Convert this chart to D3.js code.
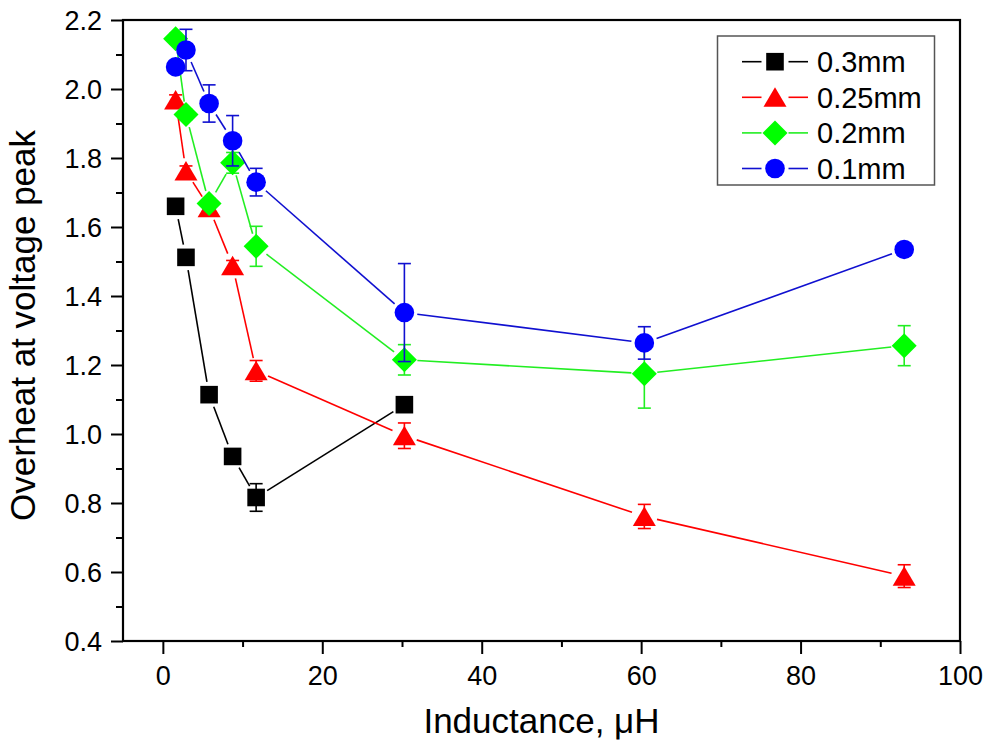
<!DOCTYPE html>
<html>
<head>
<meta charset="utf-8">
<script src="https://cdn.jsdelivr.net/npm/d3@7"></script>
<style>
	body { margin: 0; background: #fff; }
	svg { font-family: "Liberation Sans", Arial, sans-serif; }
</style>
</head>
<body>
<div class="chart"></div>
<script>

// inductance values (uH) shared by all series
const inductance = [1.6, 2.9, 5.8, 8.75, 11.7, 30.3, 60.4, 93];

const v03 = [1.66, 1.512, 1.114, 0.935, 0.816, 1.085];
const err03 = [0.012, 0.012, 0.012, 0.02, 0.04, 0.02];

const v025 = [1.968, 1.762, 1.656, 1.488, 1.183, 0.995, 0.761, 0.588];
const err025 = [0.015, 0.015, 0.015, 0.015, 0.03, 0.037, 0.035, 0.033];

const v02 = [2.146, 1.926, 1.668, 1.786, 1.544, 1.215, 1.175, 1.256];
const err02 = [0.015, 0.015, 0.015, 0.03, 0.058, 0.044, 0.1, 0.058];

const v01 = [2.064, 2.113, 1.958, 1.85, 1.73, 1.352, 1.264, 1.535];
const err01 = [0.012, 0.06, 0.054, 0.073, 0.04, 0.142, 0.047, 0.01];

const seriesNames = ["0.3mm", "0.25mm", "0.2mm", "0.1mm"];
const xTicks = [0, 20, 40, 60, 80, 100];
const yTicks = [0.4, 0.6, 0.8, 1.0, 1.2, 1.4, 1.6, 1.8, 2.0, 2.2];


const width = 986, height = 752;
const margin = {top: 20, right: 26, bottom: 111, left: 123};

const series = [
	{name: seriesNames[0], values: v03, err: err03, color: "#000000", line: "#000000", shape: "square"},
	{name: seriesNames[1], values: v025, err: err025, color: "#ff0000", line: "#ff0000", shape: "triangle"},
	{name: seriesNames[2], values: v02, err: err02, color: "#00ff00", line: "#22ee22", shape: "diamond"},
	{name: seriesNames[3], values: v01, err: err01, color: "#0000ff", line: "#1010d0", shape: "circle"}
];

function markerPath(shape){
	// shapes sized to match the original markers
	if (shape == "square") return "M-8.8,-8.8H8.8V8.8H-8.8Z";
	if (shape == "triangle") return "M0,-10L11.5,9.5H-11.5Z";
	if (shape == "diamond") return "M0,-12.5L12.5,0L0,12.5L-12.5,0Z";
	return d3.symbol().type(d3.symbolCircle).size(Math.PI * 9.8 * 9.8)();
}

// segments with a small gap at each marker, like Origin draws them
function gappedSegments(pts, gap){
	const segs = [];
	for (let i = 0; i < pts.length - 1; i++){
		const [x1, y1] = pts[i], [x2, y2] = pts[i + 1];
		const dx = x2 - x1, dy = y2 - y1, len = Math.sqrt(dx * dx + dy * dy);
		if (len <= gap * 2) continue;
		const ux = dx / len, uy = dy / len;
		segs.push([x1 + ux * gap, y1 + uy * gap, x2 - ux * gap, y2 - uy * gap]);
	}
	return segs;
}

const svg = d3.select(".chart").append("svg")
	.attr("width", width)
	.attr("height", height);

const x = d3.scaleLinear()
	.domain([-5, 100])
	.range([margin.left, width - margin.right]);

const y = d3.scaleLinear()
	.domain([0.4, 2.2])
	.range([height - margin.bottom, margin.top]);

// axes
const xAxis = svg.append("g")
	.attr("transform", `translate(0,${height - margin.bottom})`)
	.call(d3.axisBottom(x).tickValues(xTicks).tickSize(13).tickSizeOuter(0).tickPadding(12).tickFormat(d3.format("d")));

svg.append("g")
	.attr("transform", `translate(0,${height - margin.bottom})`)
	.call(d3.axisBottom(x).tickValues([10, 30, 50, 70, 90]).tickSize(6).tickFormat(""))
	.select(".domain").remove();

const yAxis = svg.append("g")
	.attr("transform", `translate(${margin.left},0)`)
	.call(d3.axisLeft(y).tickValues(yTicks).tickSize(12).tickSizeOuter(0).tickPadding(9).tickFormat(d3.format(".1f")));

svg.append("g")
	.attr("transform", `translate(${margin.left},0)`)
	.call(d3.axisLeft(y).tickValues(d3.range(0.5, 2.2, 0.2)).tickSize(7).tickFormat(""))
	.select(".domain").remove();

svg.selectAll(".tick line").attr("stroke", "#000").attr("stroke-width", 2);
xAxis.selectAll(".tick text").style("font-size", "27px").attr("fill", "#000");
yAxis.selectAll(".tick text").style("font-size", "27px").attr("fill", "#000").attr("dy", "0.36em");

// frame
svg.append("rect")
	.attr("x", margin.left)
	.attr("y", margin.top)
	.attr("width", width - margin.right - margin.left)
	.attr("height", height - margin.bottom - margin.top)
	.style("fill", "none")
	.style("stroke", "#000")
	.style("stroke-width", 2.2);

svg.append("text")
	.attr("x", (margin.left + width - margin.right) / 2)
	.attr("y", 733)
	.attr("text-anchor", "middle")
	.style("font-size", "35px")
	.text("Inductance, μH");

svg.append("text")
	.attr("transform", `translate(35,${(margin.top + height - margin.bottom) / 2 - 5}) rotate(-90)`)
	.attr("text-anchor", "middle")
	.style("font-size", "35px")
	.text("Overheat at voltage peak");

// series
series.forEach((s) => {
	const g = svg.append("g").classed("series", true);
	const pts = s.values.map((v, i) => [x(inductance[i]), y(v)]);

	g.selectAll("line.seg")
		.data(gappedSegments(pts, 13))
		.enter()
			.append("line")
				.classed("seg", true)
				.attr("x1", (d) => d[0]).attr("y1", (d) => d[1])
				.attr("x2", (d) => d[2]).attr("y2", (d) => d[3])
				.style("stroke", s.line)
				.style("stroke-width", 1.6);

	const eb = g.selectAll("g.err")
		.data(s.values.map((v, i) => ({x: inductance[i], v: v, e: s.err[i]})))
		.enter()
			.append("g")
				.classed("err", true);

	eb.append("line")
		.attr("x1", (d) => x(d.x)).attr("x2", (d) => x(d.x))
		.attr("y1", (d) => y(d.v - d.e)).attr("y2", (d) => y(d.v + d.e));
	[-1, 1].forEach((k) => {
		eb.append("line")
			.attr("x1", (d) => x(d.x) - 6.5).attr("x2", (d) => x(d.x) + 6.5)
			.attr("y1", (d) => y(d.v + k * d.e)).attr("y2", (d) => y(d.v + k * d.e));
	});
	eb.selectAll("line").style("stroke", s.line).style("stroke-width", 1.6);

	g.selectAll("path.marker")
		.data(pts)
		.enter()
			.append("path")
				.classed("marker", true)
				.attr("d", markerPath(s.shape))
				.attr("transform", (d) => `translate(${d[0]},${d[1]})`)
				.style("fill", s.color);
});

// legend
const legend = svg.append("g").classed("legend", true);

legend.append("rect")
	.attr("x", 717.5)
	.attr("y", 36)
	.attr("width", 217)
	.attr("height", 149)
	.style("fill", "#fff")
	.style("stroke", "#555")
	.style("stroke-width", 1.5);

series.forEach((s, i) => {
	const ly = 61.7 + i * 35.6;
	const row = legend.append("g").attr("transform", `translate(775,${ly})`);
	[[-33, -13.5], [13.5, 33]].forEach((p) => {
		row.append("line")
			.attr("x1", p[0]).attr("x2", p[1])
			.style("stroke", s.line)
			.style("stroke-width", 1.6);
	});
	row.append("path")
		.attr("d", markerPath(s.shape))
		.style("fill", s.color);
	row.append("text")
		.attr("x", 42)
		.attr("dy", "0.36em")
		.style("font-size", "29px")
		.text(s.name);
});

console.log("chart drawn");
</script>
</body>
</html>
